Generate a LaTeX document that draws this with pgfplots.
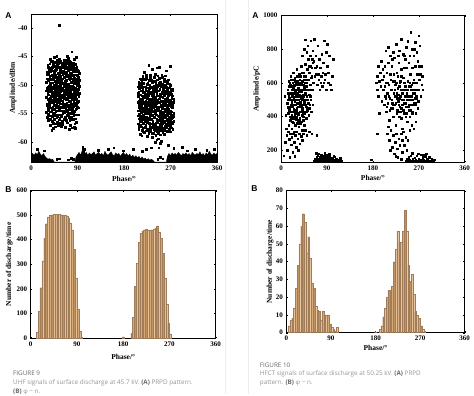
\documentclass[border=0pt]{standalone}
\usepackage{pgfplots}
\pgfplotsset{compat=1.18}
\usepackage{fontspec}
\setmainfont{Liberation Serif}
\newfontfamily\capfont{Open Sans}
\newfontfamily\panelfont{Liberation Sans}
\definecolor{hA}{RGB}{230,194,150}
\definecolor{hB}{RGB}{214,170,120}
\definecolor{hC}{RGB}{192,146,98}
\definecolor{hE}{RGB}{160,124,88}
\definecolor{capgray}{RGB}{150,150,150}
\definecolor{capdark}{RGB}{105,105,105}
\pgfplotsset{
  myax/.style={scale only axis, anchor=south west, xmin=0, xmax=360,
    xtick={0,90,180,270,360}, tick align=inside, major tick length=1.5pt,
    every tick/.style={black, line width=0.4pt},
    axis line style={line width=0.6pt},
    /pgf/number format/assume math mode=true,
    /pgf/number format/1000 sep={},
    tick label style={font=\fontsize{7}{8}\selectfont\bfseries},
    label style={font=\fontsize{7.5}{8}\selectfont\bfseries},
    xlabel={Phase/°}},
  sc9/.style={only marks, mark=square*, mark size=0.85pt, black},
  sc10/.style={only marks, mark=square*, mark size=0.8pt, black},
  hb/.style={ybar, bar width=3.6, bar shift=0pt, draw=hE, line width=0.12pt},
}
\begin{document}
\begin{tikzpicture}
\begin{scope}[x=1pt,y=1pt]
\useasboundingbox (0,0) rectangle (474,-394);
\fill[white] (0,0) rectangle (474,-394);
\draw[black!7, line width=0.6pt] (225,0) -- (225,-394);
\draw[black!7, line width=0.6pt] (248,0) -- (248,-394);
\end{scope}

% ---------- Figure 9 A ----------
\begin{axis}[myax, at={(31pt,-162pt)}, width=186pt, height=148pt,
  ymin=-63.5, ymax=-37.6, ytick={-60,-55,-50,-45,-40},
  ylabel={Amplitude/dBm},
  ylabel style={at={(axis description cs:-0.097,0.5)}, anchor=center},
  xlabel style={at={(axis description cs:0.5,-0.117)}, anchor=center}]
\addplot[black, fill=black, line width=0.3pt] coordinates {
(0,-63.5)(0,-62.4)(3,-62.0)(6,-62.3)(9,-61.9)(12,-62.2)(15,-61.6)(18,-62.1)(21,-62.4)(24,-62.0)(27,-62.5)(30,-62.8)(33,-63.0)(36,-62.9)(39,-63.1)(42,-63.0)(45,-63.5)
(85,-63.5)(87,-62.6)(90,-62.2)(93,-61.8)(96,-62.3)(99,-61.5)(101,-62.0)(104,-62.1)(107,-61.8)(110,-62.3)(113,-61.9)(116,-62.2)(119,-62.0)(122,-61.7)(125,-62.3)(128,-62.0)(131,-61.8)(134,-62.2)(137,-62.0)(140,-62.4)(143,-61.6)(146,-62.1)(149,-62.3)(152,-62.0)(155,-61.7)(158,-62.2)(161,-62.4)(164,-61.9)(167,-62.2)(170,-62.0)(173,-62.5)(176,-62.1)(179,-61.8)(182,-62.3)(185,-62.0)(188,-62.4)(191,-62.1)(194,-62.6)(197,-62.3)(200,-62.7)(203,-62.4)(206,-62.8)(209,-62.5)(212,-62.9)(215,-62.6)(218,-63.0)(221,-62.8)(224,-63.1)(227,-62.9)(230,-63.2)(233,-63.0)(236,-63.2)(239,-63.5)
(262,-63.5)(264,-62.5)(267,-62.0)(270,-62.4)(273,-61.9)(276,-62.2)(279,-62.0)(282,-62.3)(285,-61.8)(288,-62.1)(291,-62.4)(294,-62.0)(297,-62.2)(300,-61.9)(303,-62.3)(306,-62.0)(309,-62.4)(312,-61.8)(315,-62.1)(318,-62.3)(321,-62.0)(324,-62.2)(327,-61.7)(330,-62.3)(333,-62.0)(336,-62.4)(339,-61.9)(342,-62.2)(345,-61.6)(348,-62.1)(351,-62.3)(354,-61.9)(357,-62.2)(360,-62.0)(360,-63.5)
};
\addplot[sc9] coordinates {
(12,-61.2)(25,-61.5)(50,-63.0)(55,-62.9)(72,-63.1)(78,-62.8)(82,-63.0)(100,-60.8)(101,-61.3)(101,-61.8)(104,-61.2)(130,-61.4)(150,-61.3)(160,-61.0)(178,-61.5)(198,-61.2)(215,-61.6)(223,-61.3)(233,-61.0)(245,-63.0)(250,-62.6)(255,-62.9)(276,-61.1)(292,-60.9)(302,-61.5)(318,-61.3)(340,-61.4)(355,-61.2)
};
% left cluster
\addplot[sc9] coordinates {
(30,-49.5)(30,-52.1)(30,-54.8)(30,-51.0)
(31.5,-47.8)(31.5,-50.6)(31.5,-53.3)(31.5,-55.6)(31.5,-48.9)
(33,-46.9)(33,-49.2)(33,-51.7)(33,-53.9)(33,-56.2)(33,-50.4)
(34.5,-48.1)(34.5,-50.9)(34.5,-52.6)(34.5,-54.4)(34.5,-47.3)(34.5,-55.1)
(36,-46.3)(36,-49.7)(36,-51.2)(36,-53.5)(36,-55.9)(36,-48.6)(36,-52.8)
(37.5,-47.6)(37.5,-50.1)(37.5,-52.3)(37.5,-54.7)(37.5,-57.0)(37.5,-49.0)
(39,-45.8)(39,-48.4)(39,-50.8)(39,-53.1)(39,-55.4)(39,-51.9)(39,-47.1)
(40.5,-46.9)(40.5,-49.6)(40.5,-51.5)(40.5,-54.1)(40.5,-56.3)(40.5,-48.2)(40.5,-52.7)
(42,-47.5)(42,-50.3)(42,-52.0)(42,-53.8)(42,-55.0)(42,-48.8)(42,-45.9)
(43.5,-46.4)(43.5,-49.1)(43.5,-51.3)(43.5,-53.0)(43.5,-54.9)(43.5,-57.6)(43.5,-50.6)
(45,-45.1)(45,-47.9)(45,-50.0)(45,-52.4)(45,-54.2)(45,-56.0)(45,-48.7)(45,-51.6)
(46.5,-46.7)(46.5,-49.4)(46.5,-51.0)(46.5,-53.6)(46.5,-55.3)(46.5,-47.4)(46.5,-52.2)
(48,-46.0)(48,-48.3)(48,-50.7)(48,-52.9)(48,-54.6)(48,-56.8)(48,-49.8)
(49.5,-47.2)(49.5,-49.9)(49.5,-51.8)(49.5,-53.4)(49.5,-55.7)(49.5,-45.6)(49.5,-50.5)
(51,-46.5)(51,-48.6)(51,-50.2)(51,-52.5)(51,-54.0)(51,-56.5)(51,-51.4)
(52.5,-47.0)(52.5,-49.3)(52.5,-51.1)(52.5,-53.7)(52.5,-55.2)(52.5,-46.2)(52.5,-50.9)
(54,-45.4)(54,-48.0)(54,-50.4)(54,-52.1)(54,-54.3)(54,-56.1)(54,-49.5)(54,-39.5)
(55.5,-46.8)(55.5,-49.0)(55.5,-51.6)(55.5,-53.2)(55.5,-55.8)(55.5,-47.7)
(57,-47.3)(57,-50.0)(57,-52.7)(57,-54.5)(57,-48.5)(57,-51.2)
(58.5,-46.1)(58.5,-48.9)(58.5,-50.8)(58.5,-53.3)(58.5,-55.5)(58.5,-57.2)
(60,-47.8)(60,-49.7)(60,-51.9)(60,-54.0)(60,-56.4)(60,-46.6)
(61.5,-46.4)(61.5,-48.2)(61.5,-50.6)(61.5,-52.8)(61.5,-55.0)(61.5,-53.6)
(63,-47.5)(63,-49.6)(63,-51.4)(63,-53.9)(63,-56.0)(63,-45.9)
(64.5,-46.2)(64.5,-48.7)(64.5,-50.3)(64.5,-52.4)(64.5,-54.8)(64.5,-51.7)
(66,-47.1)(66,-49.4)(66,-51.2)(66,-53.5)(66,-55.6)(66,-57.4)(66,-50.1)
(67.5,-45.7)(67.5,-48.1)(67.5,-50.7)(67.5,-52.6)(67.5,-54.4)(67.5,-49.2)
(69,-46.9)(69,-49.8)(69,-51.5)(69,-53.1)(69,-55.3)(69,-47.8)
(70.5,-46.3)(70.5,-48.5)(70.5,-50.4)(70.5,-52.3)(70.5,-54.7)(70.5,-56.6)(70.5,-51.0)
(72,-47.4)(72,-49.9)(72,-51.8)(72,-53.7)(72,-55.1)(72,-45.3)
(73.5,-46.6)(73.5,-48.8)(73.5,-50.9)(73.5,-52.9)(73.5,-54.2)(73.5,-57.8)
(75,-47.9)(75,-50.2)(75,-52.2)(75,-53.6)(75,-56.2)(75,-49.1)
(76.5,-46.0)(76.5,-48.4)(76.5,-50.5)(76.5,-52.0)(76.5,-54.9)(76.5,-51.3)
(78,-47.2)(78,-49.5)(78,-51.6)(78,-53.4)(78,-55.7)(79,-44.2)
(79.5,-46.5)(79.5,-48.9)(79.5,-50.8)(79.5,-52.5)(79.5,-54.3)(79.5,-57.5)
(81,-47.7)(81,-49.3)(81,-51.9)(81,-53.8)(81,-56.0)(81,-46.1)
(82.5,-46.8)(82.5,-48.6)(82.5,-50.3)(82.5,-52.7)(82.5,-55.4)
(84,-47.0)(84,-49.7)(84,-51.4)(84,-53.2)(84,-54.6)(84,-45.5)
(85.5,-46.4)(85.5,-48.2)(85.5,-50.6)(85.5,-52.1)(85.5,-55.9)
(87,-47.6)(87,-49.4)(87,-51.7)(87,-53.6)(87,-56.5)
(88.5,-48.3)(88.5,-50.1)(88.5,-52.4)(88.5,-54.1)(88.5,-46.9)
(90,-47.4)(90,-49.8)(90,-51.0)(90,-53.0)
(91.5,-48.6)(91.5,-50.7)(91.5,-52.8)(91.5,-55.2)
(93,-49.2)(93,-51.5)(93,-50.2)(93,-47.9)
(40,-57.9)(53,-57.0)(85,-57.6)(83,-57.3)(50,-45.0)(70,-45.0)(88,-45.2)
(30.8,-48.2)(30.8,-53.5)(30.8,-50.9)(32.3,-46.5)(32.3,-51.3)(32.3,-54.2)
(33.8,-48.0)(33.8,-52.5)(33.8,-55.3)(35.3,-47.0)(35.3,-50.2)(35.3,-53.0)
(36.8,-45.5)(36.8,-51.0)(36.8,-54.0)(38.3,-48.9)(38.3,-52.6)(38.3,-56.0)
(39.8,-47.3)(39.8,-50.4)(39.8,-54.6)(41.3,-45.8)(41.3,-51.8)(41.3,-55.5)
(42.8,-48.5)(42.8,-52.9)(42.8,-56.7)(44.3,-47.9)(44.3,-50.2)(44.3,-53.5)
(45.8,-46.0)(45.8,-51.4)(45.8,-55.0)(47.3,-48.5)(47.3,-52.0)(47.3,-57.3)
(48.8,-47.0)(48.8,-51.2)(48.8,-54.0)(50.3,-45.8)(50.3,-49.0)(50.3,-53.0)
(51.8,-47.9)(51.8,-51.9)(51.8,-55.5)(53.3,-46.9)(53.3,-50.5)(53.3,-54.5)
(54.8,-48.1)(54.8,-52.3)(54.8,-56.7)(56.3,-45.9)(56.3,-50.6)(56.3,-53.9)
(57.8,-47.5)(57.8,-51.7)(57.8,-55.2)(59.3,-46.7)(59.3,-49.4)(59.3,-53.8)
(60.8,-48.9)(60.8,-52.2)(60.8,-56.9)(62.3,-47.0)(62.3,-50.9)(62.3,-54.5)
(63.8,-45.6)(63.8,-49.9)(63.8,-53.3)(65.3,-48.0)(65.3,-52.0)(65.3,-55.9)
(66.8,-46.5)(66.8,-50.0)(66.8,-54.0)(68.3,-47.7)(68.3,-51.6)(68.3,-56.2)
(69.8,-45.9)(69.8,-50.8)(69.8,-53.6)(71.3,-48.2)(71.3,-52.5)(71.3,-55.4)
(72.8,-47.1)(72.8,-50.0)(72.8,-54.0)(74.3,-45.8)(74.3,-51.5)(74.3,-55.7)
(75.8,-48.6)(75.8,-52.8)(75.8,-57.0)(77.3,-46.8)(77.3,-50.6)(77.3,-53.9)
(78.8,-47.9)(78.8,-51.8)(78.8,-56.1)(80.3,-46.2)(80.3,-50.2)(80.3,-54.7)
(81.8,-48.3)(81.8,-52.0)(81.8,-55.0)(83.3,-47.3)(83.3,-51.0)(83.3,-53.6)
(84.8,-48.8)(84.8,-52.6)(84.8,-56.8)(86.3,-47.0)(86.3,-50.8)(86.3,-54.2)
(87.8,-49.0)(87.8,-52.5)(87.8,-55.2)(89.3,-48.2)(89.3,-51.5)(89.3,-53.9)
(90.8,-47.5)(90.8,-50.0)(90.8,-54.0)(92.3,-49.5)(92.3,-52.0)
};
% right cluster
\addplot[sc9] coordinates {
(207,-52.0)(207,-54.5)(207,-56.8)(207,-50.3)
(208.5,-51.2)(208.5,-53.6)(208.5,-55.9)(208.5,-57.8)(208.5,-49.5)
(210,-50.6)(210,-52.9)(210,-55.1)(210,-57.0)(210,-53.9)
(211.5,-48.9)(211.5,-51.7)(211.5,-54.2)(211.5,-56.4)(211.5,-58.6)
(213,-50.0)(213,-52.4)(213,-54.8)(213,-57.3)(213,-53.1)
(214.5,-49.3)(214.5,-51.9)(214.5,-53.7)(214.5,-56.0)(214.5,-58.9)(214.5,-55.5)
(216,-50.8)(216,-52.6)(216,-55.2)(216,-57.6)(216,-48.5)
(217.5,-49.7)(217.5,-51.3)(217.5,-54.0)(217.5,-56.7)(217.5,-53.3)
(219,-50.3)(219,-52.2)(219,-54.6)(219,-55.8)(219,-58.3)(219,-47.8)
(220.5,-49.0)(220.5,-51.6)(220.5,-53.5)(220.5,-56.2)(220.5,-57.5)
(222,-50.7)(222,-52.8)(222,-54.9)(222,-57.1)(222,-52.0)
(223.5,-48.3)(223.5,-51.0)(223.5,-53.8)(223.5,-55.6)(223.5,-58.0)(223.5,-54.4)
(225,-49.9)(225,-52.3)(225,-54.3)(225,-56.5)(225,-59.0)
(226.5,-50.5)(226.5,-53.0)(226.5,-55.0)(226.5,-57.8)(226.5,-51.5)
(228,-49.2)(228,-51.9)(228,-53.4)(228,-56.1)(228,-58.5)(228,-46.6)
(229.5,-50.1)(229.5,-52.7)(229.5,-54.7)(229.5,-57.2)(229.5,-55.7)
(231,-48.7)(231,-51.2)(231,-53.9)(231,-55.4)(231,-58.2)
(232.5,-50.4)(232.5,-52.5)(232.5,-54.1)(232.5,-56.8)(232.5,-53.0)
(234,-49.6)(234,-51.8)(234,-54.6)(234,-57.4)(234,-59.2)(234,-47.2)
(235.5,-50.9)(235.5,-53.2)(235.5,-55.3)(235.5,-56.3)(235.5,-52.2)
(237,-49.4)(237,-51.4)(237,-54.0)(237,-56.9)(237,-58.4)
(238.5,-50.2)(238.5,-52.9)(238.5,-55.6)(238.5,-57.7)(238.5,-53.7)
(240,-48.1)(240,-51.1)(240,-53.5)(240,-55.0)(240,-57.0)(240,-60.0)
(241.5,-49.8)(241.5,-52.1)(241.5,-54.8)(241.5,-56.6)(241.5,-58.8)
(243,-50.6)(243,-53.3)(243,-55.9)(243,-57.9)(243,-51.6)(243,-59.6)
(244.5,-49.1)(244.5,-52.6)(244.5,-54.4)(244.5,-56.1)(244.5,-58.1)(244.5,-47.0)
(246,-50.0)(246,-51.9)(246,-54.2)(246,-57.3)(246,-59.4)
(247.5,-48.8)(247.5,-52.4)(247.5,-53.8)(247.5,-55.5)(247.5,-57.6)
(249,-50.7)(249,-53.1)(249,-54.9)(249,-56.8)(249,-52.0)(248,-46.9)
(250.5,-49.5)(250.5,-51.7)(250.5,-54.5)(250.5,-57.1)(250.5,-58.7)
(252,-50.2)(252,-52.8)(252,-55.3)(252,-56.4)(252,-53.6)(252,-59.8)
(253.5,-48.6)(253.5,-51.4)(253.5,-54.1)(253.5,-57.5)(253.5,-55.8)
(255,-49.9)(255,-52.2)(255,-53.9)(255,-56.0)(255,-58.3)
(256.5,-50.8)(256.5,-53.4)(256.5,-55.1)(256.5,-57.9)(256.5,-51.1)
(258,-49.3)(258,-51.9)(258,-54.7)(258,-56.5)(258,-58.6)
(259.5,-48.4)(259.5,-52.5)(259.5,-53.2)(259.5,-55.7)(259.5,-57.2)
(261,-50.4)(261,-52.9)(261,-54.3)(261,-56.9)(261,-47.5)
(262.5,-49.7)(262.5,-51.5)(262.5,-54.9)(262.5,-57.4)(262.5,-53.7)
(264,-50.9)(264,-52.3)(264,-55.4)(264,-56.2)(264,-58.1)
(265.5,-49.1)(265.5,-51.8)(265.5,-53.6)(265.5,-56.6)(265.5,-54.8)
(267,-50.5)(267,-52.7)(267,-55.0)(267,-57.8)(269,-46.7)
(268.5,-51.2)(268.5,-53.5)(268.5,-55.9)(268.5,-57.0)
(270,-50.0)(270,-52.6)(270,-54.6)(270,-56.3)(270,-58.2)
(271.5,-51.6)(271.5,-53.8)(271.5,-55.5)(271.5,-57.5)
(273,-50.7)(273,-52.4)(273,-54.0)(273,-56.8)
(274.5,-51.9)(274.5,-53.3)(274.5,-55.7)(274.5,-57.7)
(276,-52.5)(276,-54.9)(276,-56.4)
(207.8,-51.5)(207.8,-55.4)(207.8,-53.0)(209.3,-50.0)(209.3,-54.0)(209.3,-57.2)
(210.8,-52.4)(210.8,-55.7)(210.8,-49.7)(212.3,-51.0)(212.3,-53.4)(212.3,-57.0)
(213.8,-49.0)(213.8,-52.8)(213.8,-56.2)(215.3,-50.5)(215.3,-54.4)(215.3,-57.9)
(216.8,-52.0)(216.8,-55.5)(216.8,-58.2)(218.3,-49.0)(218.3,-53.0)(218.3,-56.0)
(219.8,-51.2)(219.8,-54.2)(219.8,-57.3)(221.3,-50.3)(221.3,-53.3)(221.3,-55.0)
(222.8,-48.8)(222.8,-52.2)(222.8,-56.4)(224.3,-51.6)(224.3,-54.8)(224.3,-57.7)
(225.8,-49.6)(225.8,-53.5)(225.8,-55.8)(227.3,-51.0)(227.3,-54.3)(227.3,-58.0)
(228.8,-50.6)(228.8,-52.5)(228.8,-56.7)(230.3,-48.2)(230.3,-53.4)(230.3,-55.1)
(231.8,-51.5)(231.8,-54.4)(231.8,-57.8)(233.3,-49.2)(233.3,-52.8)(233.3,-56.0)
(234.8,-50.4)(234.8,-54.0)(234.8,-58.5)(236.3,-51.8)(236.3,-53.7)(236.3,-57.2)
(237.8,-48.6)(237.8,-52.3)(237.8,-55.6)(239.3,-50.8)(239.3,-54.4)(239.3,-56.9)
(240.8,-49.3)(240.8,-53.0)(240.8,-58.0)(242.3,-51.2)(242.3,-55.2)(242.3,-57.5)
(243.8,-50.2)(243.8,-53.9)(243.8,-56.5)(245.3,-48.4)(245.3,-52.8)(245.3,-55.4)
(246.8,-51.0)(246.8,-54.2)(246.8,-58.4)(248.3,-49.7)(248.3,-53.0)(248.3,-56.2)
(249.8,-51.6)(249.8,-55.6)(249.8,-57.9)(251.3,-50.0)(251.3,-52.0)(251.3,-54.9)
(252.8,-48.2)(252.8,-53.9)(252.8,-57.0)(254.3,-51.2)(254.3,-54.7)(254.3,-56.8)
(255.8,-50.3)(255.8,-52.8)(255.8,-55.5)(257.3,-49.0)(257.3,-53.6)(257.3,-57.8)
(258.8,-51.5)(258.8,-54.2)(258.8,-56.3)(260.3,-50.0)(260.3,-53.0)(260.3,-55.2)
(261.8,-51.1)(261.8,-54.6)(261.8,-58.0)(263.3,-49.4)(263.3,-52.7)(263.3,-56.0)
(264.8,-50.9)(264.8,-53.8)(264.8,-57.0)(266.3,-51.5)(266.3,-54.2)(266.3,-55.6)
(267.8,-49.8)(267.8,-53.1)(267.8,-56.9)(269.3,-51.3)(269.3,-54.9)(269.3,-57.2)
(270.8,-50.9)(270.8,-53.0)(270.8,-55.8)(272.3,-52.1)(272.3,-54.7)(272.3,-56.5)
(273.8,-51.0)(273.8,-53.6)(273.8,-55.2)(275.3,-53.0)(275.3,-55.5)
(250,-60.2)(247,-61.0)(266,-60.5)
};
\end{axis}

% ---------- Figure 9 B ----------
\begin{axis}[myax, at={(30.7pt,-338.3pt)}, width=185pt, height=148pt,
  ymin=0, ymax=600, ytick={0,100,...,600},
  ylabel={Number of discharge/time},
  ylabel style={at={(axis description cs:-0.116,0.5)}, anchor=center},
  xlabel style={at={(axis description cs:0.5,-0.126)}, anchor=center}]
\addplot[hb, fill=hA] coordinates {(12.6,25)(23.4,315)(34.2,490)(45,502)(55.8,503)(66.6,498)(77.4,468)(88.2,245)(99,5)
(196.2,20)(207,305)(217.8,435)(228.6,440)(239.4,444)(250.2,430)(261,245)(271.8,18)};
\addplot[hb, fill=hB] coordinates {(16.2,110)(27,405)(37.8,498)(48.6,503)(59.4,501)(70.2,496)(81,440)(91.8,120)
(180,7)(199.8,85)(210.6,390)(221.4,440)(232.2,438)(243,448)(253.8,405)(264.6,140)};
\addplot[hb, fill=hC] coordinates {(19.8,205)(30.6,465)(41.4,500)(52.2,502)(63,500)(73.8,488)(84.6,360)(95.4,30)
(203.4,210)(214.2,425)(225,442)(235.8,440)(246.6,456)(257.4,345)(268.2,60)};
\end{axis}

% ---------- Figure 10 A ----------
\begin{axis}[myax, at={(281pt,-162.3pt)}, width=183.7pt, height=147pt,
  ymin=130, ymax=1000, ytick={200,400,600,800,1000},
  ylabel={Amplitude/pC},
  ylabel style={at={(axis description cs:-0.131,0.5)}, anchor=center},
  xlabel style={at={(axis description cs:0.5,-0.109)}, anchor=center}]
\addplot[sc10] coordinates {
(12,480)(13,560)(14,420)(15,610)(15,350)(16,510)(17,455)(18,590)(18,380)(19,640)(20,500)(20,430)(21,560)(21,330)(22,470)(22,620)(23,540)(23,400)(24,660)(24,365)(25,515)(25,445)(26,585)(26,310)(27,490)(27,630)(28,425)(28,555)(29,470)(29,385)(30,600)(30,520)(31,450)(31,680)(32,540)(32,360)(33,480)(33,610)(34,415)(34,570)(35,500)(35,340)(36,650)(36,460)(37,530)(37,395)(38,590)(38,485)(39,430)(39,700)(40,550)(40,370)(41,610)(41,505)(42,445)(42,560)(43,660)(43,400)(44,520)(44,470)(45,620)(45,350)(46,575)(46,490)(47,430)(47,710)(48,540)(48,640)(49,460)(49,390)(50,600)(50,520)(51,680)(51,440)(52,560)(53,480)(53,740)(54,620)(54,410)(55,530)(56,660)(56,470)(57,590)(58,500)(58,700)(59,430)(60,640)(61,560)(62,470)(62,720)
(13,500)(14,540)(16,440)(17,600)(19,470)(19,540)(20,580)(21,410)(22,520)(23,460)(24,570)(24,500)(25,390)(26,620)(26,540)(27,410)(27,560)(28,500)(28,350)(29,590)(30,440)(31,560)(31,390)(32,640)(32,480)(33,520)(34,460)(35,590)(35,420)(36,550)(37,470)(38,640)(38,360)(39,520)(40,460)(40,600)(41,410)(42,500)(43,590)(44,380)(44,560)(45,480)(46,640)(46,420)(47,530)(48,470)(49,580)(50,450)(51,620)(52,500)(53,560)(55,450)(57,520)(59,560)
(14,455)(15,525)(16,580)(17,400)(18,500)(19,430)(20,620)(21,485)(22,370)(22,560)(23,600)(24,430)(25,560)(26,470)(27,350)(28,610)(29,520)(30,400)(30,560)(31,500)(32,420)(33,560)(33,380)(34,520)(34,640)(35,460)(36,380)(36,600)(37,560)(38,430)(39,600)(39,470)(40,510)(41,450)(41,560)(42,610)(43,470)(43,530)(44,420)(45,560)(46,530)(47,470)(47,600)(48,500)(49,430)(50,560)(51,500)(52,440)(18,460)(20,390)(26,500)(29,430)(32,590)(37,620)(41,660)(45,430)
(8,250)(10,330)(11,290)(12,200)(14,310)(16,265)(17,160)(18,300)(20,235)(21,280)(23,190)(24,300)(26,250)(27,165)(28,290)(30,220)(31,310)(33,270)(34,200)(36,300)(37,240)(39,285)(41,320)(42,260)(44,300)(47,320)(50,290)(55,310)(60,300)(70,290)(5,170)(9,410)(7,520)
(42,760)(45,800)(48,855)(50,780)(52,820)(55,700)(57,760)(58,850)(60,690)(62,790)(64,730)(65,860)(66,640)(68,760)(70,700)(72,820)(73,650)(75,740)(77,690)(78,600)(80,770)(82,660)(83,720)(85,850)(86,620)(88,780)(90,700)(91,830)(93,660)(95,760)(96,590)(98,560)(100,640)(102,740)(63,600)(67,690)(71,590)(74,620)(76,560)(79,640)(81,580)(84,600)(87,650)(89,560)(92,600)(69,650)(61,740)(54,660)(56,560)(59,630)
(65,140)(67,150)(68,135)(70,160)(71,142)(72,170)(73,138)(75,150)(76,135)(77,162)(78,145)(79,175)(80,137)(81,155)(82,140)(83,168)(84,134)(85,148)(86,158)(87,136)(88,172)(89,145)(90,138)(91,160)(92,142)(93,150)(94,134)(95,165)(96,140)(97,152)(98,136)(99,148)(100,158)(101,138)(102,145)(104,135)(105,162)(106,140)(108,150)(110,137)(112,146)(114,134)(116,155)(118,140)(74,180)(69,185)(86,185)(94,178)(103,170)(107,136)
(177,145)
};
\addplot[sc10] coordinates {
(200,560)(201,640)(202,470)(203,700)(204,520)(205,600)(206,430)(207,660)(208,540)(209,480)(210,720)(211,590)(212,380)(213,510)(214,650)(215,450)(216,560)(217,700)(218,480)(219,610)(220,400)(221,540)(222,750)(223,470)(224,590)(225,350)(226,520)(227,660)(228,440)(229,570)(230,490)(231,720)(232,400)(233,600)(234,520)(235,680)(236,450)(237,560)(238,330)(239,630)(240,500)(241,760)(242,420)(243,580)(244,480)(245,690)(246,540)(247,370)(248,610)(249,460)(250,720)(251,520)(252,400)(253,650)(254,560)(255,470)(256,590)(257,690)(258,430)(259,540)(260,620)(261,480)(262,560)(263,700)(264,420)(265,600)(266,510)(267,650)(268,450)
(203,580)(205,510)(207,460)(209,600)(211,520)(213,440)(215,620)(217,500)(219,450)(221,650)(223,560)(225,480)(227,420)(229,640)(231,530)(233,460)(235,560)(237,500)(239,440)(241,600)(243,520)(245,460)(247,560)(249,500)(251,440)(253,580)(255,520)(257,420)(259,600)(261,540)(263,470)(265,520)(267,560)(269,490)(222,610)(228,510)(234,430)(240,560)(246,500)(252,600)(258,500)(264,480)(244,400)(238,470)(232,580)(226,600)(220,470)(250,580)(236,640)(242,690)
(224,520)(230,430)(234,610)(238,540)(242,480)(246,420)(248,520)(250,470)(254,500)(256,430)(260,470)(262,510)(236,390)(240,440)(244,560)(231,470)(227,540)(253,440)(257,560)(233,510)
(186,600)(188,640)(189,560)(190,700)(191,520)(193,610)(194,660)(195,580)(196,730)(197,490)(198,620)(199,680)(192,420)(188,300)
(205,790)(210,810)(214,760)(220,780)(226,830)(232,790)(236,860)(240,770)(245,810)(248,845)(252,760)(254,900)(257,800)(260,760)(263,840)(266,780)(270,880)(272,820)(268,730)(262,800)(243,740)(230,760)(218,740)(275,700)(273,650)(276,590)(278,560)(274,520)(271,620)(270,700)(277,640)(269,560)
(208,300)(212,260)(215,320)(218,220)(220,290)(222,180)(224,250)(226,300)(228,210)(229,160)(231,270)(233,230)(235,300)(237,190)(238,260)(240,310)(242,230)(244,280)(236,150)(225,165)(246,200)(210,340)(214,200)(252,320)(248,260)(256,350)(260,330)(264,370)
(244,138)(246,150)(248,135)(250,160)(252,142)(254,170)(256,138)(258,150)(260,135)(262,158)(264,142)(266,168)(268,137)(270,150)(272,140)(274,175)(276,135)(278,155)(280,142)(282,165)(284,138)(286,150)(288,136)(290,160)(292,140)(295,148)(298,135)(300,145)(257,185)(269,180)(279,172)(249,145)(263,133)(275,145)(285,180)
};
\end{axis}

% ---------- Figure 10 B ----------
\begin{axis}[myax, at={(286.3pt,-332.7pt)}, width=178.4pt, height=142.2pt,
  ymin=0, ymax=80, ytick={0,10,...,80},
  ylabel={Number of discharge/time},
  ylabel style={at={(axis description cs:-0.091,0.5)}, anchor=center},
  xlabel style={at={(axis description cs:0.5,-0.108)}, anchor=center}]
\addplot[hb, fill=hA] coordinates {(5.4,4)(16.2,14)(27,50)(37.8,62)(48.6,42)(59.4,15)(70.2,7)(81,10)(91.8,3)(102.6,3)
(180,0.6)(189,2)(199.8,14)(210.6,18)(221.4,47)(232.2,51)(243,57)(253.8,33)(264.6,10)(275.4,2)};
\addplot[hb, fill=hB] coordinates {(9,7)(19.8,25)(30.6,60)(41.4,45)(52.2,28)(63,13)(73.8,12)(84.6,10)(95.4,2)
(192.6,4)(203.4,20)(214.2,26)(225,57)(235.8,57)(246.6,38)(257.4,22)(268.2,8)(279,1)};
\addplot[hb, fill=hC] coordinates {(12.6,8)(23.4,38)(34.2,67)(45,54)(55.8,25)(66.6,12)(77.4,7)(88.2,5)(99,1)
(196.2,9)(207,24)(217.8,40)(228.6,51)(239.4,69)(250.2,29)(261,12)(271.8,4)};
\end{axis}

% ---------- Panel letters and captions ----------
\begin{scope}[x=1pt,y=1pt]
\node[font=\panelfont\bfseries\fontsize{8.5}{9}\selectfont] at (8.5,-16) {A};
\node[font=\panelfont\bfseries\fontsize{8.5}{9}\selectfont] at (8.5,-190) {B};
\node[font=\panelfont\bfseries\fontsize{8.5}{9}\selectfont] at (255.5,-16) {A};
\node[font=\panelfont\bfseries\fontsize{8.5}{9}\selectfont] at (254.5,-189) {B};
\begin{scope}[every node/.style={anchor=west, inner sep=0pt, font=\capfont\fontsize{6.3}{7}\selectfont}]
\node[text=capdark] at (13,-373) {FIGURE 9};
\node[text=capgray] at (13,-383) {UHF signals of surface discharge at 45.7 kV. {\color{capdark}\bfseries(A)} PRPD pattern.};
\node[text=capgray] at (13,-392) {{\color{capdark}\bfseries(B)} φ − n.};
\node[text=capdark] at (259.7,-365) {FIGURE 10};
\node[text=capgray] at (259.7,-374) {HFCT signals of surface discharge at 50.25 kV. {\color{capdark}\bfseries(A)} PRPD};
\node[text=capgray] at (259.7,-383) {pattern. {\color{capdark}\bfseries(B)} φ − n.};
\end{scope}
\end{scope}
\end{tikzpicture}
\end{document}
